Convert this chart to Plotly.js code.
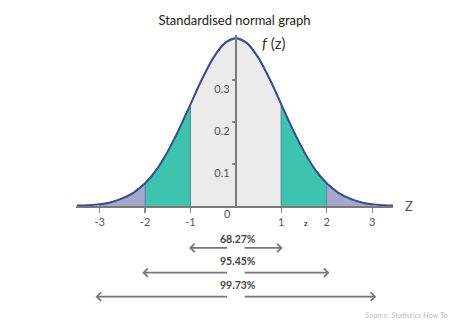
<!DOCTYPE html>
<html>
<head>
<meta charset="utf-8">
<script src="https://cdn.plot.ly/plotly-3.0.1.min.js"></script>
<style>html,body{margin:0;padding:0;background:#fff}#chart{width:474px;height:332px}</style>
</head>
<body>
<div id="chart"></div>
<script>
// Curve points (z, f(z))
const zValues = [-3.5,-3.25,-3,-2.75,-2.5,-2.25,-2,-1.75,-1.5,-1.25,-1,-0.75,-0.5,-0.25,0,0.25,0.5,0.75,1,1.25,1.5,1.75,2,2.25,2.5,2.75,3,3.25,3.5];
const fValues = [0.001,0.002,0.004,0.009,0.018,0.032,0.054,0.086,0.130,0.183,0.242,0.301,0.352,0.387,0.399,0.387,0.352,0.301,0.242,0.183,0.130,0.086,0.054,0.032,0.018,0.009,0.004,0.002,0.001];
// Shaded bands [from, to]
const bandFrom = [-1, -2, 1, -3, 2];
const bandTo   = [ 1, -1, 2, -2, 3];
const bandKind = ['inner','middle','middle','outer','outer'];
// x tick labels
const xTickVals = [-3,-2,-1,1,2,3];
const xTickText = ['-3','-2','-1','1','2','3'];
// y tick labels
const yTickVals = [0.1,0.2,0.3];
const yTickText = ['0.1','0.2','0.3'];
// Coverage arrows
const spanHalf = [1, 2, 3];
const spanLabel = ['68.27%','95.45%','99.73%'];

const colors = {inner:'#ebebeb', middle:'#3ec4ae', outer:'#a4a9cc'};
const edge = {inner:'#8a8a8a', middle:'#5b8f9e', outer:'#7480b4'};

const traces = [];
bandFrom.forEach((a, i) => {
  const b = bandTo[i];
  const xs = [a], ys = [0];
  zValues.forEach((z, j) => { if (z >= a && z <= b) { xs.push(z); ys.push(fValues[j]); } });
  xs.push(b); ys.push(0);
  traces.push({x: xs, y: ys, type:'scatter', mode:'lines', fill:'toself',
    fillcolor: colors[bandKind[i]], line:{color: edge[bandKind[i]], width:1}, hoverinfo:'skip', showlegend:false});
});
traces.push({x: zValues, y: fValues, type:'scatter', mode:'lines',
  line:{color:'#3b4a8a', width:2, shape:'spline', smoothing:0.8}, hoverinfo:'skip', showlegend:false});

const font = 'Lato, "Open Sans", sans-serif';
const annotations = [];
// arrows
const arrowRowY = [-0.245, -0.39, -0.53];
const labelRowY = [-0.195, -0.322, -0.462];
spanHalf.forEach((h, i) => {
  annotations.push({xref:'x', yref:'paper', x:0.05, y:labelRowY[i], yanchor:'middle', text:'<b>'+spanLabel[i]+'</b>', showarrow:false,
    font:{family:font, size:10.5, color:'#444'}});
  [-1, 1].forEach(s => {
    annotations.push({xref:'x', yref:'paper', axref:'x', ayref:'paper',
      x: s*h*1.03, y: arrowRowY[i], ax: s*0.16, ay: arrowRowY[i], text:'', showarrow:true,
      arrowhead:4, arrowsize:0.9, arrowwidth:1.8, arrowcolor:'#777', standoff:0, startstandoff:0});
  });
});
annotations.push({xref:'x', yref:'paper', x:0, y:0, yanchor:'middle', xshift:-8, yshift:-7, text:'0', showarrow:false,
  font:{family:font, size:11, color:'#555'}});
annotations.push({xref:'paper', yref:'paper', x:1, y:0, yanchor:'middle', xanchor:'left', xshift:10, text:'Z', showarrow:false,
  font:{family:font, size:13, color:'#555'}});
annotations.push({xref:'x', yref:'paper', x:1.54, y:0, yanchor:'middle', yshift:-17, text:'<b>z</b>', showarrow:false,
  font:{family:font, size:8, color:'#444'}});
annotations.push({xref:'x', yref:'paper', x:0.82, y:0.953, yanchor:'middle', text:'<i>f</i> (z)', showarrow:false,
  font:{family:font, size:15, color:'#333'}});
annotations.push({xref:'paper', yref:'paper', x:1.18, y:-0.64, yanchor:'middle', xanchor:'right', text:'<i>Source: Statistics How To</i>', showarrow:false,
  font:{family:font, size:8, color:'#c0c0c0'}});

const layout = {
  width:474, height:332,
  margin:{l:76, r:81, t:35, b:126},
  paper_bgcolor:'#fff', plot_bgcolor:'#fff',
  title:{text:'Standardised normal graph', x:0.5, xref:'paper', y:0.937, yanchor:'middle',
    font:{family:font, size:13, color:'#222'}},
  xaxis:{range:[-3.52, 3.46], showgrid:false, zeroline:false, showline:true, linecolor:'#7a7a7a', linewidth:2,
    ticks:'outside', ticklen:5, tickwidth:1.2, tickcolor:'#888', tickvals:xTickVals, ticktext:xTickText,
    tickfont:{family:font, size:11, color:'#555'}, fixedrange:true},
  yaxis:{range:[0, 0.407], showgrid:false, zeroline:false, showline:true, linecolor:'#7a7a7a', linewidth:2,
    anchor:'free', position:0.5045, ticks:'outside', ticklen:3, tickwidth:1.2, tickcolor:'#888',
    tickvals:yTickVals, ticktext:yTickText, ticklabelshift:9, ticklabelstandoff:0,
    tickfont:{family:font, size:11, color:'#555'}, fixedrange:true},
  annotations: annotations,
  showlegend:false
};
Plotly.newPlot('chart', traces, layout, {displayModeBar:false, staticPlot:true});
</script>
</body>
</html>
